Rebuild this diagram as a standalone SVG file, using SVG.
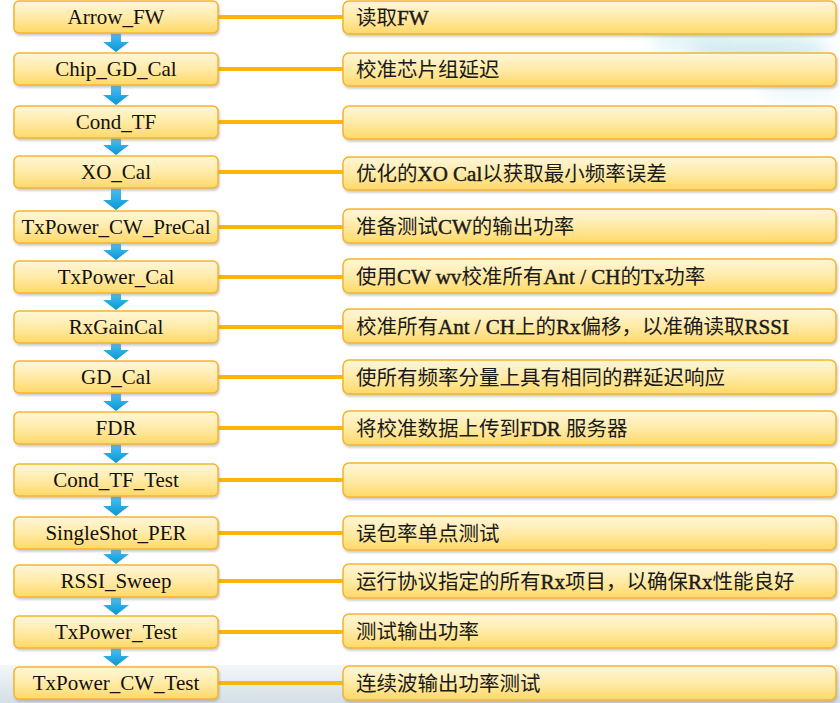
<svg xmlns="http://www.w3.org/2000/svg" width="840" height="703" viewBox="0 0 840 703">
<style>
.lb{fill:url(#gY);stroke:#F4B52E;stroke-width:1.5;filter:url(#sh)}
.rb{fill:url(#gY);stroke:#F4B52E;stroke-width:1.5;filter:url(#sh)}
.lt{font-family:"Liberation Serif","Times New Roman",serif;font-size:21px;fill:#111;text-anchor:middle}
.rt{font-family:"Liberation Serif","Noto Sans CJK SC",serif;font-size:20.5px;fill:#1a1a1a}
.b{font-size:21px;stroke:#1a1a1a;stroke-width:0.45}
.ln{stroke:#FDB507;stroke-width:4;fill:none}
.ar{fill:url(#gB)}
</style>
<defs>
<linearGradient id="gY" x1="0" y1="0" x2="0" y2="1">
<stop offset="0" stop-color="#FFF6D8"/>
<stop offset="0.5" stop-color="#FFEBA8"/>
<stop offset="1" stop-color="#FFD866"/>
</linearGradient>
<linearGradient id="gB" x1="0" y1="0" x2="0" y2="1">
<stop offset="0" stop-color="#4CC0F2"/>
<stop offset="1" stop-color="#0896D6"/>
</linearGradient>
<linearGradient id="gBot" x1="0" y1="0" x2="0" y2="1">
<stop offset="0" stop-color="#F4F7F9"/>
<stop offset="1" stop-color="#D3DEE6"/>
</linearGradient>
<filter id="sh" x="-5%" y="-20%" width="110%" height="150%">
<feDropShadow dx="1" dy="2" stdDeviation="1" flood-color="#8a8a8a" flood-opacity="0.45"/>
</filter>
<filter id="blur" x="-50%" y="-50%" width="200%" height="200%">
<feGaussianBlur stdDeviation="8"/>
</filter>
</defs>
<rect width="840" height="703" fill="#ffffff"/>
<g id="background">
<ellipse cx="760" cy="50" rx="70" ry="14" fill="#BFE4EC" opacity="0.7" filter="url(#blur)"/>
<ellipse cx="690" cy="42" rx="40" ry="10" fill="#CBEAF0" opacity="0.6" filter="url(#blur)"/>
<ellipse cx="800" cy="90" rx="40" ry="10" fill="#D6EEF2" opacity="0.5" filter="url(#blur)"/>
<rect x="0" y="665" width="840" height="38" fill="url(#gBot)"/>
</g>
<g id="connectors">
<line class="ln" x1="218" y1="17" x2="343" y2="17"/>
<line class="ln" x1="218" y1="69" x2="343" y2="69"/>
<line class="ln" x1="218" y1="122" x2="343" y2="122"/>
<line class="ln" x1="218" y1="172" x2="343" y2="172"/>
<line class="ln" x1="218" y1="227" x2="343" y2="227"/>
<line class="ln" x1="218" y1="277" x2="343" y2="277"/>
<line class="ln" x1="218" y1="327" x2="343" y2="327"/>
<line class="ln" x1="218" y1="377" x2="343" y2="377"/>
<line class="ln" x1="218" y1="428" x2="343" y2="428"/>
<line class="ln" x1="218" y1="480" x2="343" y2="480"/>
<line class="ln" x1="218" y1="533" x2="343" y2="533"/>
<line class="ln" x1="218" y1="581" x2="343" y2="581"/>
<line class="ln" x1="218" y1="632" x2="343" y2="632"/>
<line class="ln" x1="218" y1="683" x2="343" y2="683"/>
<path class="ar" d="M111 33H121V42H129L116 52L103 42H111Z"/>
<path class="ar" d="M111 85H121V95H129L116 105L103 95H111Z"/>
<path class="ar" d="M111 138H121V145H129L116 155L103 145H111Z"/>
<path class="ar" d="M111 188H121V200H129L116 210L103 200H111Z"/>
<path class="ar" d="M111 243H121V250H129L116 260L103 250H111Z"/>
<path class="ar" d="M111 293H121V300H129L116 310L103 300H111Z"/>
<path class="ar" d="M111 343H121V350H129L116 360L103 350H111Z"/>
<path class="ar" d="M111 393H121V401H129L116 411L103 401H111Z"/>
<path class="ar" d="M111 444H121V453H129L116 463L103 453H111Z"/>
<path class="ar" d="M111 496H121V506H129L116 516L103 506H111Z"/>
<path class="ar" d="M111 549H121V554H129L116 564L103 554H111Z"/>
<path class="ar" d="M111 597H121V605H129L116 615L103 605H111Z"/>
<path class="ar" d="M111 648H121V656H129L116 666L103 656H111Z"/>
</g>
<g id="n1"><rect class="lb" x="14" y="1" width="204" height="32" rx="5"/><text class="lt" x="116" y="24">Arrow_FW</text></g>
<g id="d1"><rect class="rb" x="343" y="1" width="493" height="33" rx="6"/><text class="rt" x="356" y="25">读取<tspan class="b">FW</tspan></text></g>
<g id="n2"><rect class="lb" x="14" y="53" width="204" height="32" rx="5"/><text class="lt" x="116" y="76">Chip_GD_Cal</text></g>
<g id="d2"><rect class="rb" x="343" y="53" width="493" height="33" rx="6"/><text class="rt" x="356" y="77">校准芯片组延迟</text></g>
<g id="n3"><rect class="lb" x="14" y="106" width="204" height="32" rx="5"/><text class="lt" x="116" y="129">Cond_TF</text></g>
<g id="d3"><rect class="rb" x="343" y="106" width="493" height="33" rx="6"/></g>
<g id="n4"><rect class="lb" x="14" y="156" width="204" height="32" rx="5"/><text class="lt" x="116" y="179">XO_Cal</text></g>
<g id="d4"><rect class="rb" x="343" y="157" width="493" height="33" rx="6"/><text class="rt" x="356" y="181">优化的<tspan class="b">XO Cal</tspan>以获取最小频率误差</text></g>
<g id="n5"><rect class="lb" x="14" y="211" width="204" height="32" rx="5"/><text class="lt" x="116" y="234">TxPower_CW_PreCal</text></g>
<g id="d5"><rect class="rb" x="343" y="209" width="493" height="34" rx="6"/><text class="rt" x="356" y="234">准备测试<tspan class="b">CW</tspan>的输出功率</text></g>
<g id="n6"><rect class="lb" x="14" y="261" width="204" height="32" rx="5"/><text class="lt" x="116" y="284">TxPower_Cal</text></g>
<g id="d6"><rect class="rb" x="343" y="259" width="493" height="34" rx="6"/><text class="rt" x="356" y="284">使用<tspan class="b">CW wv</tspan>校准所有<tspan class="b">Ant / CH</tspan>的<tspan class="b">Tx</tspan>功率</text></g>
<g id="n7"><rect class="lb" x="14" y="311" width="204" height="32" rx="5"/><text class="lt" x="116" y="334">RxGainCal</text></g>
<g id="d7"><rect class="rb" x="343" y="309" width="493" height="34" rx="6"/><text class="rt" x="356" y="334">校准所有<tspan class="b">Ant / CH</tspan>上的<tspan class="b">Rx</tspan>偏移，以准确读取<tspan class="b">RSSI</tspan></text></g>
<g id="n8"><rect class="lb" x="14" y="361" width="204" height="32" rx="5"/><text class="lt" x="116" y="384">GD_Cal</text></g>
<g id="d8"><rect class="rb" x="343" y="360" width="493" height="34" rx="6"/><text class="rt" x="356" y="385">使所有频率分量上具有相同的群延迟响应</text></g>
<g id="n9"><rect class="lb" x="14" y="412" width="204" height="32" rx="5"/><text class="lt" x="116" y="435">FDR</text></g>
<g id="d9"><rect class="rb" x="343" y="411" width="493" height="34" rx="6"/><text class="rt" x="356" y="436">将校准数据上传到<tspan class="b">FDR </tspan>服务器</text></g>
<g id="n10"><rect class="lb" x="14" y="464" width="204" height="32" rx="5"/><text class="lt" x="116" y="487">Cond_TF_Test</text></g>
<g id="d10"><rect class="rb" x="343" y="463" width="493" height="34" rx="6"/></g>
<g id="n11"><rect class="lb" x="14" y="517" width="204" height="32" rx="5"/><text class="lt" x="116" y="540">SingleShot_PER</text></g>
<g id="d11"><rect class="rb" x="343" y="516" width="493" height="34" rx="6"/><text class="rt" x="356" y="541">误包率单点测试</text></g>
<g id="n12"><rect class="lb" x="14" y="565" width="204" height="32" rx="5"/><text class="lt" x="116" y="588">RSSI_Sweep</text></g>
<g id="d12"><rect class="rb" x="343" y="564" width="493" height="34" rx="6"/><text class="rt" x="356" y="589">运行协议指定的所有<tspan class="b">Rx</tspan>项目，以确保<tspan class="b">Rx</tspan>性能良好</text></g>
<g id="n13"><rect class="lb" x="14" y="616" width="204" height="32" rx="5"/><text class="lt" x="116" y="639">TxPower_Test</text></g>
<g id="d13"><rect class="rb" x="343" y="614" width="493" height="34" rx="6"/><text class="rt" x="356" y="639">测试输出功率</text></g>
<g id="n14"><rect class="lb" x="14" y="667" width="204" height="32" rx="5"/><text class="lt" x="116" y="690">TxPower_CW_Test</text></g>
<g id="d14"><rect class="rb" x="343" y="666" width="493" height="34" rx="6"/><text class="rt" x="356" y="691">连续波输出功率测试</text></g>
</svg>
